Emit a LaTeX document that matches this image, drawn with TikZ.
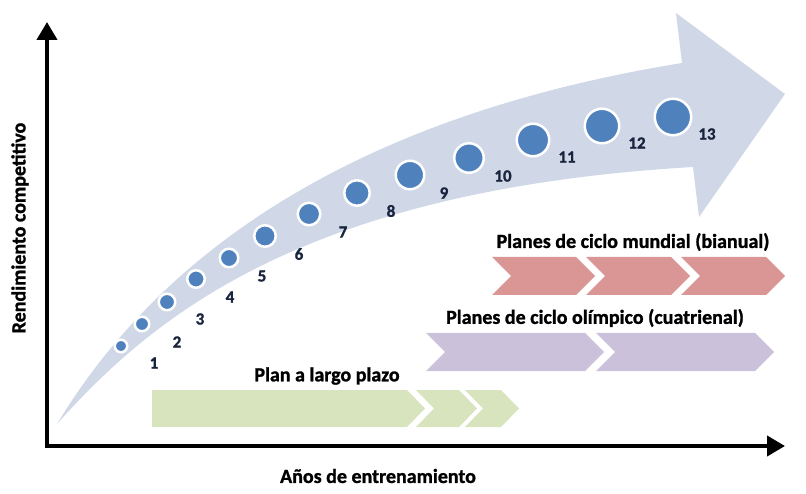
\documentclass[tikz,border=0pt]{standalone}
\usepackage{fontspec}
\setmainfont{Carlito}[BoldFeatures={FakeBold=1.2}]
\usetikzlibrary{arrows.meta}
\definecolor{band}{HTML}{D0D8E8}
\definecolor{dotblue}{HTML}{4F81BD}
\definecolor{redch}{HTML}{D99694}
\definecolor{purch}{HTML}{CCC1DA}
\definecolor{grnch}{HTML}{D7E4BD}
\definecolor{numcol}{HTML}{18233D}
\begin{document}
\begin{tikzpicture}[x=1pt,y=-1pt,
  dot/.style={circle,fill=dotblue,draw=white,line width=2.5pt,inner sep=0pt},
  num/.style={font=\bfseries\fontsize{17}{17}\selectfont,text=numcol,inner sep=0pt},
  lbl/.style={font=\bfseries\fontsize{20}{20}\selectfont,text=black,inner sep=0pt},
  axis/.style={line width=4pt,-{Triangle[length=18pt,width=20pt]}}]
\useasboundingbox (0,0) rectangle (806,494);
% big curved arrow
\fill[band] (57,424) .. controls (150,270) and (330,120) .. (682,63) -- (676,13) -- (785,94) -- (699,217) -- (693,167) .. controls (300,190) and (150,320) .. cycle;
% axes
\coordinate (ytop) at (47,22);
\coordinate (origin) at (47,446);
\coordinate (xend) at (785,446);
\draw[axis] (origin) -- (ytop);
\draw[axis] (origin) -- (xend);
\draw[line width=4pt] (47,448) -- (47,440);
% dots
\foreach \n/\x/\y/\d in {1/121/346/15,2/142/324/17,3/167/302/19,4/196/279/20,5/229/258/21,6/265/236/24,7/309/214/25,8/357/193/28,9/410/175/31,10/469/158/32,11/533/140/35,12/602/126/37,13/673/117/39}
  \node[dot,minimum size=\d pt-2.5pt] (c\n) at (\x,\y) {};
% numbers
\foreach \n/\x/\y in {1/154/363,2/177/342,3/200/319,4/230/297,5/262/276,6/299/254,7/343/232,8/391/211,9/444/193,10/503/176,11/567/157,12/637/143,13/707/134}
  \node[num] (n\n) at (\x,\y) {\n};
% red chevrons
\fill[redch] (492,257) -- (576,257) -- (595,276) -- (576,295) -- (492,295) -- (511,276) -- cycle;
\fill[redch] (586,257) -- (671,257) -- (690,276) -- (671,295) -- (586,295) -- (605,276) -- cycle;
\fill[redch] (681,257) -- (766,257) -- (785,276) -- (766,295) -- (681,295) -- (700,276) -- cycle;
% purple chevrons
\fill[purch] (426,333) -- (585,333) -- (604,352) -- (585,371) -- (426,371) -- (445,352) -- cycle;
\fill[purch] (596,333) -- (755,333) -- (774,352) -- (755,371) -- (596,371) -- (615,352) -- cycle;
% green
\fill[grnch] (152,390) -- (407,390) -- (425,408.5) -- (407,427) -- (152,427) -- cycle;
\fill[grnch] (416,390) -- (459,390) -- (477,408.5) -- (459,427) -- (416,427) -- (434,408.5) -- cycle;
\fill[grnch] (465,390) -- (501,390) -- (519,408.5) -- (501,427) -- (465,427) -- (483,408.5) -- cycle;
% labels
\node[lbl] (tmund) at (633,242) {Planes de ciclo mundial (bianual)};
\node[lbl] (tolim) at (595,318) {Planes de ciclo olímpico (cuatrienal)};
\node[lbl] (tlarg) at (327,376) {Plan a largo plazo};
\node[lbl] (tx) at (378,476) {Años de entrenamiento};
\node[lbl,rotate=90] (ty) at (20,228) {Rendimiento competitivo};
\end{tikzpicture}
\end{document}
